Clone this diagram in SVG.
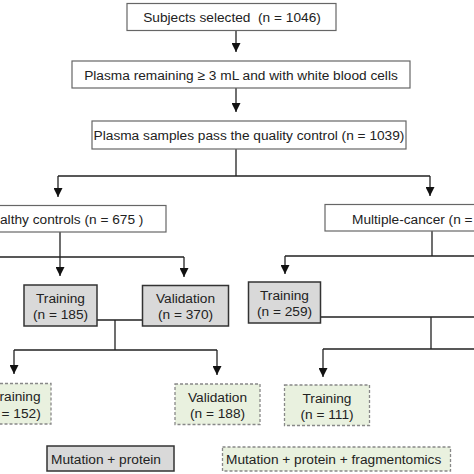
<svg xmlns="http://www.w3.org/2000/svg" width="474" height="474" viewBox="0 0 474 474">
<style>
.t{font-family:"Liberation Sans",Arial,sans-serif;font-size:13.7px;fill:#222;}
.c{text-anchor:middle;}
.w{fill:#fff;stroke:#666;stroke-width:1.2;}
.g{fill:#d9d9d9;stroke:#333;stroke-width:1.5;}
.d{fill:#e9f1df;stroke:#888;stroke-width:1.3;stroke-dasharray:3 2;}
.ln{fill:none;stroke:#222;stroke-width:1.3;}
</style>
<defs>
<marker id="ahd" markerUnits="userSpaceOnUse" markerWidth="10" markerHeight="9" viewBox="0 0 10 9" refX="9" refY="4.5" orient="auto">
<path d="M0,0 L9,4.5 L0,9 Z" fill="#111"/>
</marker>
</defs>
<rect width="474" height="474" fill="#fff"/>
<g id="connectors">
<path class="ln" d="M236,30 V52" marker-end="url(#ahd)"/>
<path class="ln" d="M236,88 V112" marker-end="url(#ahd)"/>
<path class="ln" d="M236,149 V176 M58,176 H430"/>
<path class="ln" d="M58,176 V197" marker-end="url(#ahd)"/>
<path class="ln" d="M430,176 V196" marker-end="url(#ahd)"/>
<path class="ln" d="M60,232 V257 M0,257 H184"/>
<path class="ln" d="M60,257 V276" marker-end="url(#ahd)"/>
<path class="ln" d="M184,257 V277" marker-end="url(#ahd)"/>
<path class="ln" d="M97,320 H142 M115,320 V350 M14,350 H217"/>
<path class="ln" d="M14,350 V374" marker-end="url(#ahd)"/>
<path class="ln" d="M217,350 V375" marker-end="url(#ahd)"/>
<path class="ln" d="M432,231 V256 M285,256 H474"/>
<path class="ln" d="M285,256 V274" marker-end="url(#ahd)"/>
<path class="ln" d="M321,317 H474 M431,317 V349 M323,349 H474"/>
<path class="ln" d="M323,349 V377" marker-end="url(#ahd)"/>
</g>
<g id="n-subjects">
<rect class="w" x="127" y="3.5" width="209" height="27"/>
<text class="t c" x="232" y="22">Subjects selected&#160; (n = 1046)</text>
</g>
<g id="n-plasma">
<rect class="w" x="72" y="61" width="338" height="27"/>
<text class="t c" x="241" y="79.5">Plasma remaining ≥ 3 mL and with white blood cells</text>
</g>
<g id="n-qc">
<rect class="w" x="92" y="121" width="314" height="28"/>
<text class="t c" x="249" y="140">Plasma samples pass the quality control (n = 1039)</text>
</g>
<g id="n-healthy">
<rect class="w" x="-5" y="205.5" width="171" height="26.5"/>
<text class="t" x="0" y="224">althy controls (n = 675 )</text>
</g>
<g id="n-cancer">
<rect class="w" x="325" y="204.5" width="160" height="26.5"/>
<text class="t" x="352" y="223.5">Multiple-cancer (n =</text>
</g>
<g id="n-train185">
<rect class="g" x="24" y="285" width="73" height="41"/>
<text class="t c" x="60.5" y="302.5">Training</text>
<text class="t c" x="60.5" y="319">(n = 185)</text>
</g>
<g id="n-val370">
<rect class="g" x="142.5" y="285.5" width="86" height="40.5"/>
<text class="t c" x="185.5" y="302.5">Validation</text>
<text class="t c" x="185.5" y="319">(n = 370)</text>
</g>
<g id="n-train259">
<rect class="g" x="248.5" y="282" width="72" height="41"/>
<text class="t c" x="284.5" y="299.5">Training</text>
<text class="t c" x="284.5" y="316">(n = 259)</text>
</g>
<g id="n-train152">
<rect class="d" x="-5" y="383.5" width="56" height="40.5"/>
<text class="t" x="-0.5" y="401">raining</text>
<text class="t" x="1.5" y="417.5">= 152)</text>
</g>
<g id="n-val188">
<rect class="d" x="175" y="384" width="85" height="40.5"/>
<text class="t c" x="217.5" y="401.5">Validation</text>
<text class="t c" x="217.5" y="418">(n = 188)</text>
</g>
<g id="n-train111">
<rect class="d" x="284.5" y="385" width="85" height="40.5"/>
<text class="t c" x="327" y="402.5">Training</text>
<text class="t c" x="327" y="419">(n = 111)</text>
</g>
<g id="legend-mp">
<rect class="g" x="47" y="446" width="127" height="25"/>
<text class="t" x="51" y="463.5">Mutation + protein</text>
</g>
<g id="legend-mpf">
<rect class="d" x="222.5" y="447" width="228" height="24"/>
<text class="t" x="226" y="463.5">Mutation + protein + fragmentomics</text>
</g>
</svg>
